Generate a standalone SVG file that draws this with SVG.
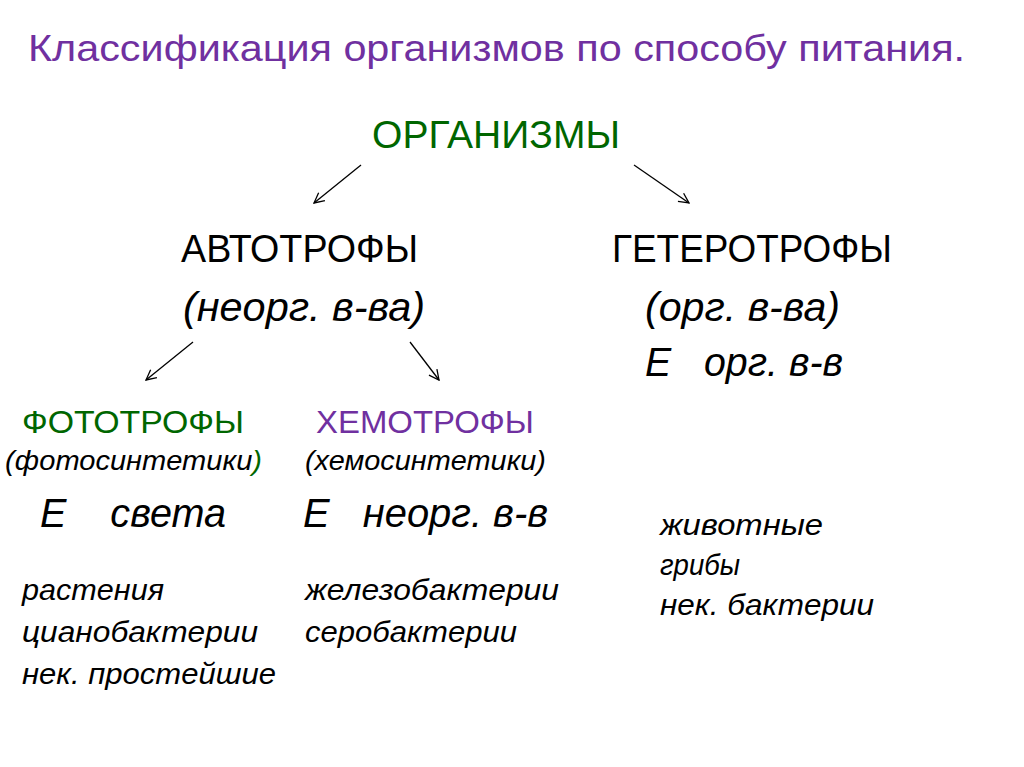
<svg xmlns="http://www.w3.org/2000/svg" width="1024" height="767" viewBox="0 0 1024 767">
<defs>
<style>
text{font-family:"Liberation Sans","Open Sans",sans-serif;fill:#000}
.t{font-size:36px;fill:#7030A0}
.g{fill:#006600}
.p{fill:#7030A0}
.h1{font-size:38px}
.h2{font-size:32px}
.it{font-style:italic}
.sub{font-size:41px}
.sm{font-size:28px}
.e{font-size:40px}
.l{font-size:29px}
.conn line{stroke:#000;stroke-width:1.3;fill:none;marker-end:url(#arr)}
</style>
<marker id="arr" viewBox="0 0 12 12" refX="11" refY="6" markerWidth="12" markerHeight="12" markerUnits="userSpaceOnUse" orient="auto">
<path d="M1,1 L11,6 L1,11" fill="none" stroke="#000" stroke-width="1.3"/>
</marker>
</defs>
<rect width="1024" height="767" fill="#fff"/>
<g id="title"><text class="t" x="28" y="61" textLength="937" lengthAdjust="spacingAndGlyphs">Классификация организмов по способу питания.</text></g>
<g id="organisms"><text class="h1 g" x="372" y="148" textLength="248" lengthAdjust="spacingAndGlyphs">ОРГАНИЗМЫ</text></g>
<g id="autotrophs">
<text class="h1" x="181" y="262" textLength="237" lengthAdjust="spacingAndGlyphs">АВТОТРОФЫ</text>
<text class="sub it" x="183" y="321" textLength="242" lengthAdjust="spacingAndGlyphs">(неорг. в-ва)</text>
</g>
<g id="heterotrophs">
<text class="h1" x="612" y="262" textLength="280" lengthAdjust="spacingAndGlyphs">ГЕТЕРОТРОФЫ</text>
<text class="sub it" x="645" y="321" textLength="195" lengthAdjust="spacingAndGlyphs">(орг. в-ва)</text>
<text class="sub it" x="645" y="376" xml:space="preserve" textLength="198" lengthAdjust="spacingAndGlyphs">Е   орг. в-в</text>
<text class="l it" x="660" y="535" textLength="163" lengthAdjust="spacingAndGlyphs">животные</text>
<text class="l it" x="660" y="575" textLength="80" lengthAdjust="spacingAndGlyphs">грибы</text>
<text class="l it" x="660" y="615" textLength="214" lengthAdjust="spacingAndGlyphs">нек. бактерии</text>
</g>
<g id="phototrophs">
<text class="h2 g" x="22" y="433" textLength="222" lengthAdjust="spacingAndGlyphs">ФОТОТРОФЫ</text>
<text class="sm it" x="5" y="470" textLength="257" lengthAdjust="spacingAndGlyphs">(фотосинтетики<tspan class="g">)</tspan></text>
<text class="e it" x="40" y="527" xml:space="preserve" textLength="186" lengthAdjust="spacingAndGlyphs">Е    света</text>
<text class="l it" x="22" y="600" textLength="142" lengthAdjust="spacingAndGlyphs">растения</text>
<text class="l it" x="22" y="642" textLength="236" lengthAdjust="spacingAndGlyphs">цианобактерии</text>
<text class="l it" x="22" y="684" textLength="254" lengthAdjust="spacingAndGlyphs">нек. простейшие</text>
</g>
<g id="chemotrophs">
<text class="h2 p" x="316" y="433" textLength="218" lengthAdjust="spacingAndGlyphs">ХЕМОТРОФЫ</text>
<text class="sm it" x="305" y="470" textLength="241" lengthAdjust="spacingAndGlyphs">(хемосинтетики)</text>
<text class="e it" x="303" y="527" xml:space="preserve" textLength="245" lengthAdjust="spacingAndGlyphs">Е   неорг. в-в</text>
<text class="l it" x="305" y="600" textLength="254" lengthAdjust="spacingAndGlyphs">железобактерии</text>
<text class="l it" x="305" y="642" textLength="212" lengthAdjust="spacingAndGlyphs">серобактерии</text>
</g>
<g id="connectors" class="conn">
<line x1="361" y1="165" x2="314" y2="203"/>
<line x1="634" y1="165" x2="689" y2="203"/>
<line x1="193" y1="342" x2="146" y2="380"/>
<line x1="410" y1="342" x2="439" y2="380"/>
</g>
</svg>
